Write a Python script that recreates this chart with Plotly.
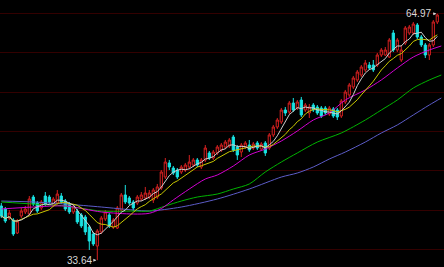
import plotly.graph_objects as go
import pandas as pd

# OHLC per trading day (index 0..109)
opens = [40.53, 40.15, 39.0, 38.75, 37.1, 39.26, 39.77, 39.51, 41.67, 40.91,
         40.28, 41.8, 41.67, 40.66, 40.91, 41.8, 41.16, 40.78, 39.77, 39.89,
         39.39, 39.13, 37.86, 36.97, 35.44, 37.23, 38.88, 39.39, 37.86, 37.73,
         40.02, 41.93, 41.55, 41.04, 40.91, 41.42, 41.55, 41.67, 41.29, 41.67,
         42.82, 44.22, 46.0, 45.36, 45.1, 44.85, 45.1, 45.49, 45.74, 46.38,
         45.49, 46.38, 47.27, 46.63, 47.27, 47.65, 48.03, 48.16, 49.3, 48.03,
         47.39, 48.03, 48.28, 47.9, 48.54, 47.77, 48.54, 47.9, 49.56, 50.57,
         51.21, 52.73, 52.48, 53.62, 52.99, 54.0, 52.73, 52.35, 53.37, 53.11,
         52.99, 52.99, 52.22, 52.86, 52.73, 51.97, 53.75, 54.64, 55.66, 56.55,
         57.18, 57.82, 58.45, 58.45, 58.45, 59.72, 59.72, 59.47, 62.52, 60.36,
         59.09, 61.25, 62.52, 62.52, 63.54, 62.01, 61.0, 59.72, 61.0, 63.92]
highs = [40.91, 40.4, 40.02, 39.0, 38.88, 40.28, 40.53, 41.8, 41.93, 41.16,
         41.29, 42.31, 41.93, 41.67, 42.56, 42.18, 41.42, 41.04, 40.66, 40.15,
         39.64, 39.39, 38.12, 37.23, 37.6, 39.26, 40.02, 39.64, 39.0, 40.53,
         42.18, 43.2, 41.8, 41.29, 41.93, 42.31, 42.95, 42.56, 42.82, 43.33,
         45.1, 46.63, 46.38, 45.61, 45.36, 45.74, 46.0, 47.01, 46.63, 46.63,
         46.63, 48.28, 47.52, 47.65, 48.28, 48.54, 48.92, 49.17, 49.56, 48.28,
         48.54, 48.79, 48.92, 48.66, 48.79, 48.66, 48.79, 49.81, 50.83, 51.72,
         52.99, 53.11, 53.88, 54.26, 54.0, 54.39, 53.62, 53.5, 53.62, 53.37,
         53.24, 53.24, 53.24, 53.11, 52.99, 54.13, 55.28, 56.17, 57.06, 57.82,
         58.45, 59.09, 58.84, 59.09, 59.98, 60.61, 60.74, 61.88, 62.9, 61.88,
         61.0, 63.41, 63.54, 63.92, 63.79, 62.27, 61.25, 61.25, 64.17, 64.97]
lows = [39.0, 38.37, 38.75, 36.72, 36.97, 39.0, 39.51, 39.39, 40.53, 39.64,
        40.02, 40.53, 40.78, 40.4, 40.66, 40.78, 39.89, 39.51, 39.51, 38.24,
        37.73, 36.84, 34.94, 35.44, 33.64, 36.97, 38.62, 37.73, 37.6, 37.6,
        39.89, 40.78, 40.66, 39.89, 40.66, 41.16, 41.29, 41.42, 40.91, 41.42,
        42.56, 43.96, 45.1, 44.47, 43.96, 44.6, 44.85, 45.23, 45.49, 45.49,
        45.23, 46.12, 46.38, 46.38, 47.01, 47.39, 47.77, 47.9, 47.39, 46.38,
        46.76, 47.77, 47.39, 47.65, 47.65, 47.52, 46.89, 47.65, 49.3, 50.32,
        50.95, 51.97, 52.22, 52.48, 52.73, 51.84, 52.48, 51.72, 52.48, 52.1,
        51.72, 52.1, 51.97, 51.72, 51.46, 51.72, 53.5, 54.39, 55.4, 56.29,
        56.93, 57.56, 57.82, 57.56, 58.2, 59.47, 59.6, 59.34, 60.1, 60.1,
        58.84, 61.0, 62.27, 62.27, 61.76, 60.74, 59.34, 59.09, 60.74, 63.66]
closes = [39.26, 38.62, 39.64, 36.97, 38.62, 39.89, 40.15, 41.42, 40.78, 39.89,
          41.04, 40.78, 41.04, 41.42, 42.05, 41.04, 40.15, 39.77, 40.4, 38.5,
          37.99, 37.23, 36.08, 35.7, 37.35, 39.0, 39.77, 37.99, 38.75, 40.28,
          41.93, 41.04, 40.91, 40.28, 41.67, 41.93, 42.18, 42.18, 42.56, 42.95,
          44.85, 46.12, 45.49, 44.72, 44.22, 45.49, 45.74, 46.12, 46.38, 45.74,
          46.38, 47.9, 46.63, 47.39, 48.03, 48.28, 48.66, 48.92, 47.65, 47.01,
          48.28, 48.54, 47.65, 48.41, 47.9, 48.41, 47.27, 49.56, 50.57, 51.46,
          52.73, 52.35, 53.62, 52.73, 53.75, 52.1, 53.37, 53.11, 52.73, 52.35,
          51.97, 52.35, 52.99, 51.97, 51.84, 53.88, 55.02, 55.91, 56.8, 57.56,
          58.2, 58.71, 58.07, 57.82, 59.72, 60.36, 60.36, 61.63, 60.36, 61.63,
          60.36, 63.16, 63.28, 63.66, 62.01, 61.0, 59.72, 61.0, 63.92, 64.81]

# slower moving averages at sample days
ma20_idx = [0, 8, 16, 25, 33, 37, 40, 43, 47, 51, 54, 58, 62, 66, 70, 74, 78, 82, 86, 91, 95, 99, 103, 107, 110]
ma20_val = [40.15, 40.4, 40.53, 39.77, 39.51, 39.6, 40.2, 41.3, 42.69, 43.96, 44.47, 45.61, 47.01, 47.77,
            48.79, 50.06, 51.46, 52.35, 54.0, 55.28, 56.55, 58.07, 59.47, 60.36, 60.87]
ma30_idx = [0, 8, 16, 25, 33, 37, 41, 45, 49, 54, 58, 62, 66, 70, 74, 79, 85, 91, 95, 99, 103, 107, 110]
ma30_val = [41.04, 40.78, 40.53, 39.89, 39.89, 39.89, 40.53, 41.16, 41.67, 42.05, 42.69, 43.33, 44.85,
            46.12, 47.27, 48.66, 49.81, 51.46, 52.73, 54.0, 55.53, 56.55, 57.18]
ma60_idx = [0, 8, 16, 25, 33, 37, 45, 54, 62, 70, 74, 78, 82, 86, 91, 95, 99, 103, 107, 110]
ma60_val = [41.16, 41.04, 40.78, 40.4, 40.02, 39.89, 40.4, 41.42, 42.69, 44.21, 44.72, 45.49, 46.5,
            47.39, 48.66, 49.81, 50.83, 52.1, 53.37, 54.26]

days = list(range(len(closes)))
cs = pd.Series(closes)
ma5 = cs.rolling(5, min_periods=1).mean()
ma10 = cs.rolling(10, min_periods=1).mean()

RED = "#d42020"
CYAN = "#19e3e3"

fig = go.Figure()
fig.add_trace(go.Candlestick(
    x=days, open=opens, high=highs, low=lows, close=closes,
    increasing=dict(line=dict(color=RED, width=1), fillcolor="#000000"),
    decreasing=dict(line=dict(color=CYAN, width=1), fillcolor=CYAN),
    whiskerwidth=0, hoverinfo="skip", showlegend=False))

fig.add_trace(go.Scatter(x=ma60_idx, y=ma60_val, mode="lines", line=dict(color="#5c5cc8", width=1, shape="spline", smoothing=0.8), hoverinfo="skip"))
fig.add_trace(go.Scatter(x=ma30_idx, y=ma30_val, mode="lines", line=dict(color="#00b400", width=1, shape="spline", smoothing=0.8), hoverinfo="skip"))
fig.add_trace(go.Scatter(x=ma20_idx, y=ma20_val, mode="lines", line=dict(color="#d200d2", width=1, shape="spline", smoothing=0.8), hoverinfo="skip"))
fig.add_trace(go.Scatter(x=days, y=ma10, mode="lines", line=dict(color="#c8c800", width=1), hoverinfo="skip"))
fig.add_trace(go.Scatter(x=days, y=ma5, mode="lines", line=dict(color="#cfcfcf", width=1), hoverinfo="skip"))

hi_i = highs.index(max(highs))
lo_i = lows.index(min(lows))
ann_font = dict(family="Liberation Sans, Arial, sans-serif", size=10, color="#d8d8d8")
fig.add_annotation(x=hi_i, y=highs[hi_i], text=f"{highs[hi_i]:.2f}", showarrow=True,
                   ax=-4, ay=0, xanchor="right", yanchor="middle", arrowhead=2, arrowsize=0.6,
                   arrowwidth=1, arrowcolor="#d8d8d8", font=ann_font, standoff=1)
fig.add_annotation(x=lo_i, y=lows[lo_i], text=f"{lows[lo_i]:.2f}", showarrow=True,
                   ax=-3, ay=0, xanchor="right", yanchor="middle", arrowhead=2, arrowsize=0.6,
                   arrowwidth=1, arrowcolor="#d8d8d8", font=ann_font, standoff=1)

fig.update_layout(
    width=444, height=267, margin=dict(l=0, r=0, t=0, b=0),
    paper_bgcolor="#000000", plot_bgcolor="#000000",
    showlegend=False, boxgap=0.45, boxgroupgap=0,
    xaxis=dict(range=[-0.325, 110.675], showgrid=False, zeroline=False, showticklabels=False,
               rangeslider=dict(visible=False), fixedrange=True),
    yaxis=dict(range=[32.775, 66.716], dtick=5, tick0=35, gridcolor="#330000", gridwidth=1,
               zeroline=False, showticklabels=False, fixedrange=True),
)
fig.write_html("out.html")
